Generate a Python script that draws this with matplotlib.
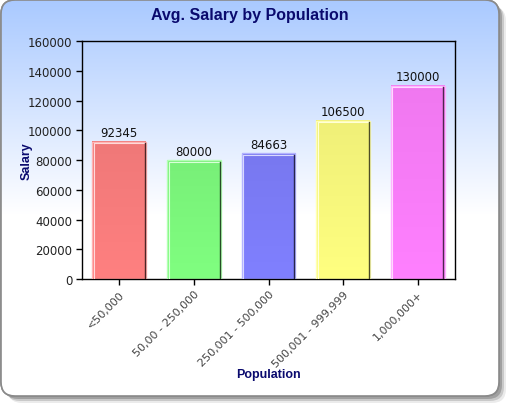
import numpy as np
import matplotlib
matplotlib.use("Agg")
import matplotlib.pyplot as plt
from matplotlib.patches import FancyBboxPatch
from matplotlib.colors import to_rgb

categories = ["<50,000", "50,00 - 250,000", "250,001 - 500,000", "500,001 - 999,999", "1,000,000+"]
salaries = [92345, 80000, 84663, 106500, 130000]
bar_colors = ["#ff8080", "#80ff80", "#8080ff", "#ffff80", "#ff80ff"]
yticks = [0, 20000, 40000, 60000, 80000, 100000, 120000, 140000, 160000]

navy = "#0a0a6e"
W, H = 510, 410

fig = plt.figure(figsize=(W / 100, H / 100), dpi=100)

# background panel: shadow + rounded box with blue->white gradient
bg = fig.add_axes([0, 0, 1, 1])
bg.set_xlim(0, W)
bg.set_ylim(H, 0)
bg.axis("off")
for off, a in [(7, 0.08), (5, 0.14), (3, 0.2)]:
    sh = FancyBboxPatch((1 + off, 1 + off), 498, 396, boxstyle="round,pad=0,rounding_size=14",
                        fc="#000000", ec="none", alpha=a)
    bg.add_patch(sh)
panel = FancyBboxPatch((1, 1), 498, 396, boxstyle="round,pad=0,rounding_size=14",
                       fc="white", ec="#8a8a8a", lw=1.2)
bg.add_patch(panel)
grad = np.ones((H, 1, 3))
top = np.array(to_rgb("#a9c9ff"))
t = np.clip(np.arange(H) / 215.0, 0, 1)[:, None]
grad[:, 0, :] = top * (1 - t) + np.ones(3) * t
im = bg.imshow(grad, extent=[0, W, H, 0], aspect="auto", zorder=1)
im.set_clip_path(panel)
edge = FancyBboxPatch((1, 1), 498, 396, boxstyle="round,pad=0,rounding_size=14",
                      fc="none", ec="#8a8a8a", lw=1.2, zorder=2)
bg.add_patch(edge)

fig.text(0.49, 0.962, "Avg. Salary by Population", ha="center", va="center",
         fontsize=11.5, fontweight="bold", color=navy, family="Liberation Sans")

ax = fig.add_axes([82 / W, 1 - 280 / H, 373 / W, 238 / H])
ax.set_facecolor("none")
x = np.arange(len(categories))
bw = 0.72
ymax = 160000
# one pixel in data units, for the bevel lines
px_x = len(categories) / 373
px_y = ymax / 238

for xi, v, c in zip(x, salaries, bar_colors):
    base = np.array(to_rgb(c))
    g = np.linspace(0, 1, 64)[:, None]
    dark = base * 0.94
    img = (dark * (1 - g) + base * g).reshape(64, 1, 3)
    l, r = xi - bw / 2, xi + bw / 2
    # row 0 (darker) sits at the top of the bar
    ax.imshow(img, extent=[l, r, 0, v], origin="upper", aspect="auto", zorder=2)
    ax.bar(xi, v, width=bw, facecolor="none", edgecolor=base * 0.6 + 0.4, lw=1.0, zorder=3)
    hi = base * 0.3 + 0.7
    ax.plot([l + 1.5 * px_x, l + 1.5 * px_x, r - 1.5 * px_x], [0, v - 1.5 * px_y, v - 1.5 * px_y],
            color=hi, lw=0.8, zorder=4)
    ax.plot([r - 1.2 * px_x, r - 1.2 * px_x], [0, v - 1.5 * px_y], color=base * 0.3, lw=1, zorder=4)
    ax.text(xi, v + 1500, str(v), ha="center", va="bottom", fontsize=8.5, color="#111111",
            family="DejaVu Sans")

ax.set_aspect("auto")
ax.set_xlim(-0.5, len(categories) - 0.5)
ax.set_ylim(0, ymax)
ax.set_yticks(yticks)
ax.set_yticklabels([str(v) for v in yticks], fontsize=8.5, family="DejaVu Sans", color="#222222")
ax.set_xticks(x)
ax.set_xticklabels(categories, rotation=45, ha="right", rotation_mode="anchor",
                   fontsize=8, family="DejaVu Sans", color="#444444")
ax.tick_params(direction="out", length=4, width=1, color="black", pad=3)
for s in ax.spines.values():
    s.set_color("black")
    s.set_linewidth(1)

ax.set_xlabel("Population", fontsize=9, fontweight="bold", color=navy,
              family="Liberation Sans")
ax.set_ylabel("Salary", fontsize=9, fontweight="bold", color=navy,
              family="Liberation Sans")
ax.xaxis.set_label_coords(0.5, (280 - 375) / 238)
ax.yaxis.set_label_coords((27 - 82) / 373, 0.5)
ax.xaxis.label.set_va("center")
ax.yaxis.label.set_va("center")

fig.savefig("out.png", dpi=100)
